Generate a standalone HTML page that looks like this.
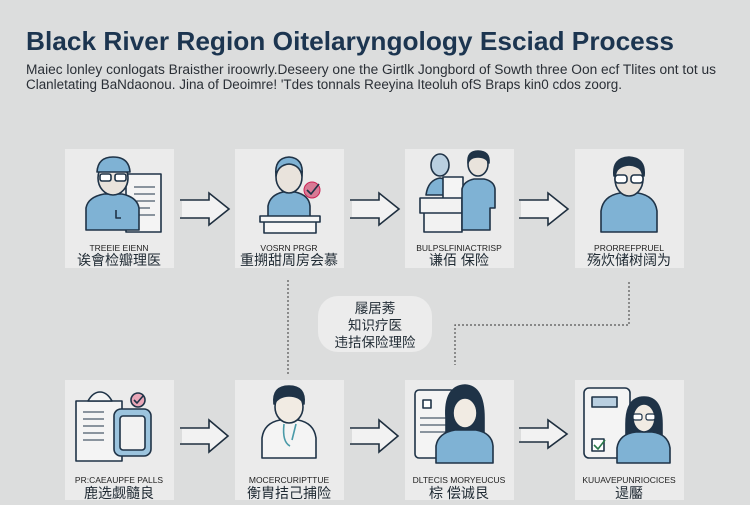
<!DOCTYPE html>
<html><head><meta charset="utf-8"><style>
body{margin:0;width:750px;height:500px;background:#dcdddd;overflow:hidden;font-family:"Liberation Sans","Noto Sans CJK SC",sans-serif;}
</style></head><body>
<svg width="750" height="500" viewBox="0 0 750 500" xmlns="http://www.w3.org/2000/svg" font-family="Liberation Sans, Noto Sans CJK SC, sans-serif">
<rect width="750" height="500" fill="#dcdddd"/>
<text x="26" y="50" font-size="26" font-weight="bold" fill="#1c3550" textLength="648" lengthAdjust="spacingAndGlyphs">Black River Region Oitelaryngology Esciad Process</text>
<text x="26" y="74" font-size="13.5" fill="#2a2f36" textLength="690" lengthAdjust="spacingAndGlyphs">Maiec lonley conlogats Braisther iroowrly.Deseery one the Girtlk Jongbord of Sowth three Oon ecf Tlites ont tot us</text>
<text x="26" y="89" font-size="13.5" fill="#2a2f36" textLength="596" lengthAdjust="spacingAndGlyphs">Clanletating BaNdaonou. Jina of Deoimre! 'Tdes tonnals Reeyina Iteoluh ofS Braps kin0 cdos zoorg.</text>

<g fill="#ebebeb">
<rect x="65" y="149" width="109" height="119"/><rect x="235" y="149" width="109" height="119"/>
<rect x="405" y="149" width="109" height="119"/><rect x="575" y="149" width="109" height="119"/>
<rect x="65" y="380" width="109" height="120"/><rect x="235" y="380" width="109" height="120"/>
<rect x="405" y="380" width="109" height="120"/><rect x="575" y="380" width="109" height="120"/>
</g>

<g fill="#f2f2f2" stroke="#1f2f3f" stroke-width="1.6">
<path d="M180 200 H209 V193 L229 209 L209 225 V218 H180"/>
<path d="M350 200 H379 V193 L399 209 L379 225 V218 H350"/>
<path d="M519 200 H548 V193 L568 209 L548 225 V218 H519"/>
<path d="M180 428 H209 V420 L228 436 L209 452 V444 H180"/>
<path d="M350 428 H379 V420 L398 436 L379 452 V444 H350"/>
<path d="M519 428 H548 V420 L567 434 L548 448 V442 H519"/>
</g>
<g fill="#dcdddd"><rect x="179" y="201" width="3" height="16"/><rect x="349" y="201" width="3" height="16"/><rect x="518" y="201" width="3" height="16"/><rect x="179" y="429" width="3" height="14"/><rect x="349" y="429" width="3" height="14"/><rect x="518" y="429" width="3" height="12"/></g>

<g stroke="#555" stroke-width="1.2" stroke-dasharray="2 2" fill="none">
<path d="M288 280 V376"/>
<path d="M629 282 V325 H455 V365"/>
</g>
<rect x="318" y="296" width="114" height="56" rx="20" fill="#ececec"/>
<g font-size="13.5" fill="#1f2a33" text-anchor="middle">
<text x="375" y="313">屦居莠</text><text x="375" y="330">知识疗医</text><text x="375" y="347">违拮保险理险</text>
</g>

<g font-size="8.5" fill="#222" text-anchor="middle">
<text x="119" y="251">TREEIE EIENN</text><text x="289" y="251">VOSRN PRGR</text>
<text x="459" y="251">BULPSLFINIACTRISP</text><text x="629" y="251">PRORREFPRUEL</text>
<text x="119" y="483">PR:CAEAUPFE PALLS</text><text x="289" y="483">MOCERCURIPTTUE</text>
<text x="459" y="483">DLTECIS MORYEUCUS</text><text x="629" y="483">KUUAVEPUNRIOCICES</text>
</g>
<g font-size="14" fill="#1f2a33" text-anchor="middle">
<text x="119" y="265">诶會检瓣理医</text><text x="289" y="265">重搠甜周房会慕</text>
<text x="459" y="265">谦佰 保险</text><text x="629" y="265">殇炊储树阔为</text>
<text x="119" y="498">鹿选觑髓良</text><text x="289" y="498">衡胄拮己捕险</text>
<text x="459" y="498">棕 偿诚艮</text><text x="629" y="498">遈靨</text>
</g>

<g stroke="#1f3347" stroke-width="1.6" stroke-linejoin="round">
<rect x="126" y="174" width="35" height="58" fill="#f4f4f4"/>
<g stroke-width="1"><path d="M134 187H155M134 194H155M134 201H155M134 208H150M134 215H155"/></g>
<path d="M86 230 V208 Q88 197 104 194 H122 Q137 197 139 208 V230Z" fill="#7fb2d4"/>
<ellipse cx="113" cy="178" rx="15" ry="17" fill="#e9e3dc"/>
<path d="M97 172 Q98 157 113 157 Q129 157 130 172 Z" fill="#7fb2d4"/>
<rect x="100" y="174" width="11" height="7" rx="2" fill="#fff"/><rect x="115" y="174" width="11" height="7" rx="2" fill="#fff"/>
<path d="M116 210 v8 h5" fill="none"/>
<path d="M268 226 V206 Q270 195 283 192 H295 Q309 195 310 206 V226Z" fill="#7fb2d4"/>
<ellipse cx="289" cy="177" rx="13" ry="16" fill="#e9e3dc"/>
<path d="M276 176 Q274 158 289 157 Q304 158 302 176 Q300 165 289 164 Q278 165 276 176Z" fill="#7fb2d4"/>
<circle cx="312" cy="190" r="8" fill="#d87a95" stroke="#c25" stroke-width="1"/>
<path d="M307 190 l4 4 l8 -10" fill="none"/>
<path d="M260 216 H320 V222 H260Z M264 222 H316 V233 H264Z" fill="#f6f6f6"/>
<ellipse cx="440" cy="165" rx="9" ry="11" fill="#b9cfe0"/>
<path d="M426 195 Q428 180 440 178 Q452 180 454 195Z" fill="#7fb2d4"/>
<rect x="443" y="177" width="20" height="22" fill="#f4f4f4"/>
<path d="M420 198 H462 V213 H420Z M424 213 H462 V232 H424Z" fill="#f2f2f2"/>
<path d="M462 230 V189 Q464 181 474 179 H484 Q494 181 495 189 V208 H490 V230Z" fill="#7fb2d4"/>
<ellipse cx="478" cy="164" rx="10" ry="12" fill="#e9e3dc"/>
<path d="M468 163 Q467 151 478 151 Q490 151 489 163 Q486 157 478 157 Q470 157 468 163Z" fill="#1f3347"/>
<path d="M601 232 V211 Q603 196 620 193 H638 Q655 196 657 211 V232Z" fill="#7fb2d4"/>
<ellipse cx="629" cy="179" rx="14" ry="17" fill="#e9e3dc"/>
<path d="M614 176 Q612 158 629 157 Q646 158 644 176 Q642 166 629 165 Q617 166 614 176Z" fill="#1f3347"/>
<rect x="615" y="175" width="12" height="8" rx="3" fill="#fff"/><rect x="631" y="175" width="12" height="8" rx="3" fill="#fff"/>
<rect x="76" y="401" width="46" height="60" fill="#f4f4f4"/>
<path d="M88 401 Q93 392 100 392 Q107 392 112 401Z" fill="#f4f4f4"/>
<g stroke-width="1"><path d="M83 412H104M83 419H104M83 426H104M83 433H104M83 440H104"/></g>
<rect x="114" y="409" width="37" height="47" rx="7" fill="#9cc4de"/>
<rect x="120" y="416" width="25" height="34" rx="3" fill="#f2f2f2"/>
<circle cx="138" cy="400" r="7" fill="#e9a7b8"/><path d="M134 400 l3 3 l6 -7" fill="none"/>
<path d="M262 458 V438 Q264 423 280 420 H298 Q314 423 316 438 V458Z" fill="#f4f4f4"/>
<ellipse cx="289" cy="407" rx="14" ry="16" fill="#f1ebe3"/>
<path d="M274 404 Q272 386 289 386 Q306 386 304 404 Q300 396 289 396 Q279 396 274 404Z" fill="#1f3347"/>
<path d="M284 424 Q282 442 290 446 M296 424 L292 440" fill="none" stroke="#4a9aa8"/>
<rect x="415" y="390" width="40" height="68" rx="4" fill="#f4f4f4"/>
<rect x="423" y="400" width="8" height="8" fill="#fff"/>
<g stroke-width="1"><path d="M420 418H450M420 425H450M420 432H450"/></g>
<path d="M446 418 Q444 386 465 385 Q484 386 484 418 V440 H446Z" fill="#1f3347"/>
<path d="M436 463 V446 Q438 433 455 430 H476 Q492 433 493 446 V463Z" fill="#7fb2d4"/>
<ellipse cx="465" cy="413" rx="12" ry="15" fill="#f1ebe3"/>
<rect x="584" y="388" width="46" height="70" rx="5" fill="#f4f4f4"/>
<rect x="592" y="397" width="25" height="10" fill="#b9cfe0"/>
<rect x="592" y="439" width="12" height="12" fill="#fff"/><path d="M594 445 l4 4 l7 -9" stroke="#2a7a4a" fill="none"/>
<path d="M626 424 Q626 397 644 397 Q662 397 662 424 V445 H626Z" fill="#1f3347"/>
<path d="M617 463 V448 Q619 434 636 432 H652 Q668 434 670 448 V463Z" fill="#7fb2d4"/>
<ellipse cx="644" cy="418" rx="11" ry="14" fill="#f1ebe3"/>
<rect x="633" y="414" width="9" height="6" rx="2" fill="#fff" stroke-width="1.2"/><rect x="646" y="414" width="9" height="6" rx="2" fill="#fff" stroke-width="1.2"/>
</g>
</svg>
</body></html>
